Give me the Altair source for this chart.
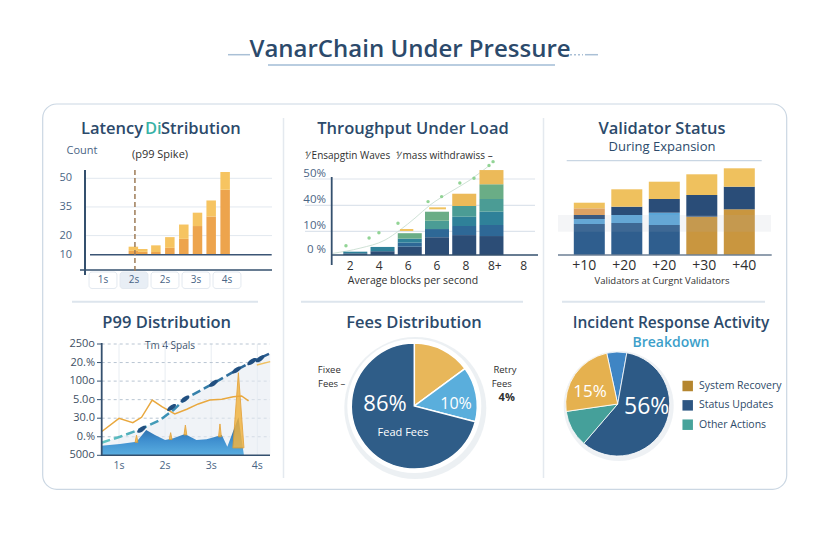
import math
import altair as alt
import pandas as pd

OFF = 8
FONT = "Open Sans"
NAVY = "#2c4a6b"
LABEL = "#4a6585"
DARK = "#2f2f2f"
AXIS = "#34506e"

# ---------------- data ----------------
# Panel 1: Latency Distribution
lat_x_labels = ["1s", "2s", "2s", "3s", "4s"]
lat_y_ticks = [10, 20, 35, 50]
lat_bar_pos = [1.89, 2.22, 2.68, 3.17, 3.66, 4.14, 4.62, 5.11]
lat_lower = [12.0, 11.5, 11.4, 13.6, 18.3, 25.0, 30.0, 44.0]
lat_upper = [14.2, 13.0, 14.9, 19.2, 25.8, 32.0, 38.4, 53.3]
lat_base = 10
lat_p99 = 2.03

# Panel 2: Throughput Under Load
tp_x_labels = ["2", "4", "6", "6", "8", "8+", "8"]
tp_y_ticks = [0, 10, 40, 50]
tp_y_labels = ["0 %", "10%", "40%", "50%"]
tp_segments = ["navy", "blue", "teal", "sea", "green", "gold"]
tp_navy = [0.7, 1.6, 3.5, 7.5, 8.4, 8.0]
tp_blue = [0.0, 0.0, 1.7, 5.1, 7.7, 9.3]
tp_teal = [0.7, 1.8, 1.7, 0.0, 10.7, 15.3]
tp_sea = [0.0, 0.0, 0.0, 9.6, 12.4, 9.8]
tp_green = [0.0, 0.0, 2.3, 10.4, 0.0, 5.6]
tp_gold = [0.0, 0.0, 0.0, 0.0, 5.2, 5.4]
tp_dot_x = [0.85, 1.65, 1.99, 2.65, 3.69, 4.16, 4.79, 5.28, 5.80, 5.94]
tp_dot_y = [3.9, 7.2, 9.4, 19.2, 41.4, 43.3, 48.5, 50.3, 55.1, 56.6]
tp_curve_x = [0.4, 1.34, 2.2, 2.72, 3.24, 3.76, 4.45, 5.14, 5.83]
tp_curve_y = [0.7, 2.9, 6.3, 11.5, 25.3, 40.1, 45.0, 49.6, 55.3]
tp_dash_x1 = [2.72, 3.73]
tp_dash_x2 = [3.18, 4.31]
tp_dash_y = [11.5, 36.5]

# Panel 3: Validator Status
val_x_labels = ["+10", "+20", "+20", "+30", "+40"]
val_segments = ["mid", "light", "tan", "dark", "orange", "gold"]
val_mid = [31.0, 32.0, 30.0, 0.0, 0.0]
val_light = [5.0, 8.0, 12.3, 0.0, 0.0]
val_tan = [0.0, 0.0, 0.0, 38.3, 45.7]
val_dark = [4.0, 8.3, 13.7, 21.7, 22.6]
val_orange = [6.7, 0.0, 0.0, 0.0, 0.0]
val_gold = [5.6, 17.4, 17.3, 20.7, 18.4]
val_band = [23.3, 40.0]

# Panel 4: P99 Distribution
p99_y_labels = ["500o", "0.%", "30.0", "5.0o", "100o", "20.%", "250o"]
p99_x_labels = ["1s", "2s", "3s", "4s"]
p99_area_x = [0.62, 1.02, 1.38, 1.59, 1.78, 2.00, 2.18, 2.43, 2.68, 2.90, 3.23, 3.35, 3.59, 3.71]
p99_area_y = [0.52, 0.61, 0.73, 1.36, 1.09, 0.82, 0.92, 1.15, 0.82, 0.86, 1.09, 0.46, 2.05, 0.0]
p99_orange_x = [0.62, 1.00, 1.30, 1.49, 1.72, 1.93, 2.21, 2.47, 2.72, 2.97, 3.23, 3.48, 3.66, 3.81]
p99_orange_y = [1.27, 1.99, 1.76, 2.05, 2.98, 2.62, 2.23, 2.48, 2.77, 2.98, 3.02, 3.16, 3.20, 2.94]
p99_tail_x = [3.99, 4.28]
p99_tail_y = [4.87, 5.05]
p99_teal_x = [0.62, 1.02, 1.46, 1.89, 2.18, 2.43, 3.05, 3.55, 3.88, 4.28]
p99_teal_y = [0.68, 1.00, 1.40, 1.90, 2.44, 3.03, 3.88, 4.60, 5.05, 5.50]
p99_blob_x = [1.49, 2.14, 2.43, 3.05, 3.55, 3.88, 4.06]
p99_blob_y = [1.40, 2.58, 3.03, 3.88, 4.60, 5.05, 5.20]
spk_x = [1.38, 2.12, 2.44, 3.19, 3.59]
spk_peak = [1.09, 1.22, 1.63, 1.69, 4.45]
spk_base = [0.70, 0.85, 1.10, 1.00, 0.40]
spk_half = [0.03, 0.03, 0.03, 0.03, 0.12]

# Panel 5: Fees Distribution
fee_cats = ["gold", "retry", "fead"]
fee_vals = [14.9, 14.1, 71.0]

# Panel 6: Incident Response Activity
inc_cats = ["light", "status", "other", "system"]
inc_vals = [6.2, 58.5, 11.4, 23.9]
inc_start_deg = 347.8
inc_legend = ["System Recovery", "Status Updates", "Other Actions"]

# ---------------- helpers ----------------
def px(v):
    return v - OFF


def lin(domain, rng):
    return alt.Scale(domain=domain, range=[px(r) for r in rng], nice=False, zero=False)


ONE = pd.DataFrame({"k": [0]})


def txt(s, x, y, size=11, color=DARK, weight="normal", align="center"):
    return alt.Chart(ONE).mark_text(
        text=s, font=FONT, fontSize=size, color=color, fontWeight=weight,
        align=align, baseline="middle"
    ).encode(x=alt.value(px(x)), y=alt.value(px(y)))


def hrule(x1, x2, y, color, w=1.0, dash=None, opacity=1.0):
    props = dict(color=color, strokeWidth=w, opacity=opacity)
    if dash:
        props["strokeDash"] = dash
    return alt.Chart(ONE).mark_rule(**props).encode(
        x=alt.value(px(x1)), x2=alt.value(px(x2)), y=alt.value(px(y)))


def vrule(x, y1, y2, color, w=1.0, dash=None, opacity=1.0):
    props = dict(color=color, strokeWidth=w, opacity=opacity)
    if dash:
        props["strokeDash"] = dash
    return alt.Chart(ONE).mark_rule(**props).encode(
        x=alt.value(px(x)), y=alt.value(px(y1)), y2=alt.value(px(y2)))


def stack_rows(positions, segs, series):
    rows = []
    for i, p in enumerate(positions):
        acc = 0.0
        for name, vals in zip(segs, series):
            h = vals[i]
            if h > 0:
                rows.append({"x": p, "seg": name, "lo": acc, "hi": acc + h})
                acc += h
    return pd.DataFrame(rows)


layers = []

# ---------------- card & title ----------------
layers.append(alt.Chart(ONE).mark_rect(
    fill="#ffffff", stroke="#cbd7e3", strokeWidth=1.2, cornerRadius=14
).encode(x=alt.value(px(42.7)), x2=alt.value(px(786.7)),
         y=alt.value(px(104)), y2=alt.value(px(489.3))))

layers.append(txt("VanarChain Under Pressure", 410, 50, size=24, color=NAVY, weight=600))
layers.append(hrule(268, 555, 65, "#b9cde0", 2))
layers.append(hrule(228, 250, 54.7, "#aac0d6", 1.5))
layers.append(hrule(570, 583, 54.7, "#aac0d6", 1.5, dash=[2, 2]))
layers.append(hrule(585, 598, 54.7, "#aac0d6", 1.5))

# separators
layers.append(vrule(283.5, 118, 478, "#e4e9ef", 1.5))
layers.append(vrule(543.5, 118, 478, "#e4e9ef", 1.5))
layers.append(hrule(72, 258, 301.7, "#dde5ed", 2))
layers.append(hrule(301, 523, 301.7, "#dde5ed", 2))
layers.append(hrule(562, 765, 301.7, "#dde5ed", 2))

# ---------------- Panel 1 ----------------
lat_xs = lin([1, 5], [103, 227])
lat_ys = lin([10, 50], [254.7, 178.3])

layers.append(txt("Latency", 81, 129, size=16.5, color=NAVY, weight=600, align="left"))
layers.append(txt("Di", 145, 129, size=16.5, color="#38b2a6", weight=600, align="left"))
layers.append(txt("Stribution", 161, 129, size=16.5, color=NAVY, weight=600, align="left"))
layers.append(txt("Count", 82, 151, size=11, color=LABEL))
layers.append(txt("(p99 Spike)", 160, 155, size=11, color=DARK))

df_lat_grid = pd.DataFrame({"v": [20, 35, 50]})
layers.append(alt.Chart(df_lat_grid).mark_rule(color="#e2e8ef", strokeWidth=1).encode(
    y=alt.Y("v:Q", scale=lat_ys, axis=None), x=alt.value(px(85)), x2=alt.value(px(272))))
df_lat_yl = pd.DataFrame({"v": lat_y_ticks, "t": [str(v) for v in lat_y_ticks]})
layers.append(alt.Chart(df_lat_yl).mark_text(
    font=FONT, fontSize=11, color=LABEL, align="right", baseline="middle").encode(
    y=alt.Y("v:Q", scale=lat_ys, axis=None), x=alt.value(px(72)), text="t:N"))

df_lat = pd.DataFrame({"x": lat_bar_pos, "lo": lat_lower, "hi": lat_upper})
df_lat["base"] = lat_base
layers.append(alt.Chart(df_lat).mark_bar(size=9.5, color="#eda44d").encode(
    x=alt.X("x:Q", scale=lat_xs, axis=None),
    y=alt.Y("base:Q", scale=lat_ys, axis=None), y2="lo:Q"))
layers.append(alt.Chart(df_lat).mark_bar(size=9.5, color="#f6c461").encode(
    x=alt.X("x:Q", scale=lat_xs, axis=None),
    y=alt.Y("lo:Q", scale=lat_ys, axis=None), y2="hi:Q"))

# baseline at 10
layers.append(alt.Chart(pd.DataFrame({"v": [lat_base]})).mark_rule(color="#3b5575", strokeWidth=1.5).encode(
    y=alt.Y("v:Q", scale=lat_ys, axis=None), x=alt.value(px(90)), x2=alt.value(px(271.7))))
# axes lines
layers.append(vrule(85, 170, 275, AXIS, 2))
layers.append(hrule(80, 272, 270, AXIS, 1.5))
# p99 dashed line
layers.append(alt.Chart(pd.DataFrame({"x": [lat_p99]})).mark_rule(
    color="#9d7b57", strokeWidth=1.5, strokeDash=[5, 3]).encode(
    x=alt.X("x:Q", scale=lat_xs, axis=None), y=alt.value(px(170)), y2=alt.value(px(272))))

df_lat_xl = pd.DataFrame({"x": list(range(1, 6)), "t": lat_x_labels, "hl": [0, 1, 0, 0, 0]})
df_lat_xl["x0"] = df_lat_xl["x"] - 0.45
df_lat_xl["x1"] = df_lat_xl["x"] + 0.45
layers.append(alt.Chart(df_lat_xl).mark_rect(cornerRadius=3, stroke="#e3e9f0", strokeWidth=1).encode(
    x=alt.X("x0:Q", scale=lat_xs, axis=None), x2="x1:Q",
    y=alt.value(px(272)), y2=alt.value(px(288.5)),
    fill=alt.condition("datum.hl == 1", alt.value("#e8eef5"), alt.value("#ffffff"))))
layers.append(alt.Chart(df_lat_xl).mark_text(
    font=FONT, fontSize=10, color=LABEL, baseline="middle").encode(
    x=alt.X("x:Q", scale=lat_xs, axis=None), y=alt.value(px(280)), text="t:N"))

# ---------------- Panel 2 ----------------
tp_xs = lin([1, 7], [350.3, 523.7])
tp_ys = alt.Scale(domain=[0, 10, 40, 50, 60],
                  range=[px(v) for v in [255, 231.3, 205.3, 179, 152.7]],
                  nice=False, zero=False)

layers.append(txt("Throughput Under Load", 413, 129, size=16.5, color=NAVY, weight=600))
layers.append(txt("\u215f Ensapgtin Waves", 305, 156, size=10, color=DARK, align="left"))
layers.append(txt("\u215f mass withdrawiss \u2013", 396, 156, size=10, color=DARK, align="left"))

df_tp_grid = pd.DataFrame({"v": [10, 40, 50]})
layers.append(alt.Chart(df_tp_grid).mark_rule(color="#dde4ec", strokeWidth=1.2).encode(
    y=alt.Y("v:Q", scale=tp_ys, axis=None), x=alt.value(px(305)), x2=alt.value(px(535))))
df_tp_yl = pd.DataFrame({"v": tp_y_ticks, "t": tp_y_labels})
layers.append(alt.Chart(df_tp_yl).mark_text(
    font=FONT, fontSize=11.5, color=LABEL, align="right", baseline="bottom").encode(
    y=alt.Y("v:Q", scale=tp_ys, axis=None), x=alt.value(px(326)), text="t:N"))

layers.append(alt.Chart(pd.DataFrame({"x": tp_curve_x, "y": tp_curve_y})).mark_line(
    color="#cfe2d6", strokeWidth=1, interpolate="monotone").encode(
    x=alt.X("x:Q", scale=tp_xs, axis=None), y=alt.Y("y:Q", scale=tp_ys, axis=None)))

df_tp = stack_rows(list(range(1, 7)), tp_segments,
                   [tp_navy, tp_blue, tp_teal, tp_sea, tp_green, tp_gold])
layers.append(alt.Chart(df_tp).mark_bar(size=24).encode(
    x=alt.X("x:Q", scale=tp_xs, axis=None),
    y=alt.Y("lo:Q", scale=tp_ys, axis=None), y2="hi:Q",
    color=alt.Color("seg:N", legend=None, scale=alt.Scale(
        domain=tp_segments,
        range=["#2c4d76", "#2e6896", "#2f8199", "#4b9c95", "#6aad86", "#ecba59"]))))

layers.append(alt.Chart(pd.DataFrame({"x": tp_dot_x, "y": tp_dot_y})).mark_circle(
    size=12, color="#86cf8a", opacity=0.9).encode(
    x=alt.X("x:Q", scale=tp_xs, axis=None), y=alt.Y("y:Q", scale=tp_ys, axis=None)))
layers.append(alt.Chart(pd.DataFrame({"x": tp_dash_x1, "x2": tp_dash_x2, "y": tp_dash_y})).mark_rule(
    color="#f0c25e", strokeWidth=2).encode(
    x=alt.X("x:Q", scale=tp_xs, axis=None), x2="x2:Q", y=alt.Y("y:Q", scale=tp_ys, axis=None)))

layers.append(vrule(331.7, 177, 265, AXIS, 1.8))
layers.append(hrule(331, 538, 255, AXIS, 1.5))
df_tp_xl = pd.DataFrame({"x": list(range(1, 8)), "t": tp_x_labels})
layers.append(alt.Chart(df_tp_xl).mark_text(
    font=FONT, fontSize=12, color=DARK, baseline="middle").encode(
    x=alt.X("x:Q", scale=tp_xs, axis=None), y=alt.value(px(266)), text="t:N"))
layers.append(txt("Average blocks per second", 413, 281, size=10.5, color=DARK))

# ---------------- Panel 3 ----------------
val_xs = lin([1, 5], [584.3, 744.3])
val_ys = lin([0, 100], [255, 155])

layers.append(txt("Validator Status", 662, 129, size=16.5, color=NAVY, weight=600))
layers.append(txt("During Expansion", 662, 147.3, size=13, color=NAVY))
layers.append(hrule(566.7, 761.7, 160.7, "#c9d6e3", 1.2))

df_val = stack_rows(list(range(1, 6)), val_segments,
                    [val_mid, val_light, val_tan, val_dark, val_orange, val_gold])
layers.append(alt.Chart(df_val).mark_bar(size=31).encode(
    x=alt.X("x:Q", scale=val_xs, axis=None),
    y=alt.Y("lo:Q", scale=val_ys, axis=None), y2="hi:Q",
    color=alt.Color("seg:N", legend=None, scale=alt.Scale(
        domain=val_segments,
        range=["#2f5e8e", "#5ba6d8", "#c9963f", "#2a4d78", "#dea263", "#efc15e"]))))
layers.append(alt.Chart(pd.DataFrame({"lo": [val_band[0]], "hi": [val_band[1]]})).mark_rect(
    color="#aab4bf", opacity=0.13).encode(
    x=alt.value(px(558)), x2=alt.value(px(771)),
    y=alt.Y("lo:Q", scale=val_ys, axis=None), y2="hi:Q"))
layers.append(hrule(558, 771.7, 255, "#6c7f95", 1.5))
df_val_xl = pd.DataFrame({"x": list(range(1, 6)), "t": val_x_labels})
layers.append(alt.Chart(df_val_xl).mark_text(
    font=FONT, fontSize=14, color=DARK, baseline="middle").encode(
    x=alt.X("x:Q", scale=val_xs, axis=None), y=alt.value(px(265.7)), text="t:N"))
layers.append(txt("Validators at Curgnt Validators", 662, 280.7, size=9.5, color=DARK))

# ---------------- Panel 4 ----------------
p99_xs = lin([1, 4], [119, 257.3])
p99_ys = lin([0, 6], [455.3, 344])

layers.append(txt("P99 Distribution", 166.7, 322.7, size=16.5, color=NAVY, weight=600))
layers.append(txt("Tm 4 Spals", 170, 346, size=10, color="#3a4f6a"))

layers.append(alt.Chart(pd.DataFrame({"x": [1, 2, 3, 4]})).mark_rule(
    color="#e8edf2", strokeWidth=1).encode(
    x=alt.X("x:Q", scale=p99_xs, axis=None), y=alt.value(px(344)), y2=alt.value(px(455))))
layers.append(alt.Chart(pd.DataFrame({"v": [1, 2, 3, 4, 5, 6]})).mark_rule(
    color="#b9c5d2", strokeWidth=1, strokeDash=[3, 3]).encode(
    y=alt.Y("v:Q", scale=p99_ys, axis=None), x=alt.value(px(101.7)), x2=alt.value(px(270))))

df_teal = pd.DataFrame({"x": p99_teal_x, "y": p99_teal_y})
df_teal["z"] = 0
layers.append(alt.Chart(df_teal).mark_area(color="#e6ebf1", opacity=0.6).encode(
    x=alt.X("x:Q", scale=p99_xs, axis=None),
    y=alt.Y("y:Q", scale=p99_ys, axis=None), y2="z:Q"))

df_area = pd.DataFrame({"x": p99_area_x, "y": p99_area_y})
df_area["z"] = 0
layers.append(alt.Chart(df_area).mark_area(
    color=alt.LinearGradient(gradient="linear", x1=0, x2=0, y1=0, y2=1, stops=[
        alt.GradientStop(color="#1f4f86", offset=0),
        alt.GradientStop(color="#3f8fcf", offset=0.6),
        alt.GradientStop(color="#5aaee0", offset=1)])).encode(
    x=alt.X("x:Q", scale=p99_xs, axis=None),
    y=alt.Y("y:Q", scale=p99_ys, axis=None), y2="z:Q"))

spk_rows = []
for i in range(len(spk_x)):
    for dx, yy in [(-spk_half[i], spk_base[i]), (0.0, spk_peak[i]), (spk_half[i], spk_base[i])]:
        spk_rows.append({"id": i, "x": spk_x[i] + dx, "y": yy, "b": spk_base[i]})
layers.append(alt.Chart(pd.DataFrame(spk_rows)).mark_area(
    color="#f0b443", opacity=0.85, stroke="#e59e2c", strokeWidth=1).encode(
    x=alt.X("x:Q", scale=p99_xs, axis=None),
    y=alt.Y("y:Q", scale=p99_ys, axis=None), y2="b:Q", detail="id:N"))

layers.append(alt.Chart(pd.DataFrame({"x": p99_orange_x, "y": p99_orange_y})).mark_line(
    color="#e9a83e", strokeWidth=1.5).encode(
    x=alt.X("x:Q", scale=p99_xs, axis=None), y=alt.Y("y:Q", scale=p99_ys, axis=None)))
layers.append(alt.Chart(pd.DataFrame({"x": p99_tail_x, "y": p99_tail_y})).mark_line(
    color="#f0c060", strokeWidth=1.5).encode(
    x=alt.X("x:Q", scale=p99_xs, axis=None), y=alt.Y("y:Q", scale=p99_ys, axis=None)))

layers.append(alt.Chart(df_teal).mark_line(
    stroke=alt.LinearGradient(gradient="linear", x1=0, x2=1, y1=0, y2=0, stops=[
        alt.GradientStop(color="#63c7c2", offset=0),
        alt.GradientStop(color="#3a8fb5", offset=0.4),
        alt.GradientStop(color="#2a5b8f", offset=1)]),
    strokeWidth=2.5, strokeDash=[9, 4]).encode(
    x=alt.X("x:Q", scale=p99_xs, axis=None), y=alt.Y("y:Q", scale=p99_ys, axis=None)))
layers.append(alt.Chart(pd.DataFrame({"x": p99_blob_x, "y": p99_blob_y})).mark_point(
    shape="M -1 0 A 1 0.42 0 1 1 1 0 A 1 0.42 0 1 1 -1 0 Z",
    filled=True, size=110, angle=325, color="#214f80", opacity=1).encode(
    x=alt.X("x:Q", scale=p99_xs, axis=None), y=alt.Y("y:Q", scale=p99_ys, axis=None)))

layers.append(vrule(101.7, 343, 456, AXIS, 1.8))
layers.append(hrule(101.7, 270, 455.3, AXIS, 1.5))
df_p99_yl = pd.DataFrame({"v": list(range(7)), "t": p99_y_labels})
layers.append(alt.Chart(df_p99_yl).mark_rule(color=AXIS, strokeWidth=1).encode(
    y=alt.Y("v:Q", scale=p99_ys, axis=None), x=alt.value(px(97)), x2=alt.value(px(101.7))))
layers.append(alt.Chart(df_p99_yl).mark_text(
    font=FONT, fontSize=11, color="#3e4f63", align="right", baseline="middle").encode(
    y=alt.Y("v:Q", scale=p99_ys, axis=None), x=alt.value(px(95)), text="t:N"))
df_p99_xl = pd.DataFrame({"x": [1, 2, 3, 4], "t": p99_x_labels})
layers.append(alt.Chart(df_p99_xl).mark_text(
    font=FONT, fontSize=10.5, color=LABEL, baseline="middle").encode(
    x=alt.X("x:Q", scale=p99_xs, axis=None), y=alt.value(px(465.7)), text="t:N"))

# ---------------- Panel 5 ----------------
FCX, FCY = 414.3, 406
layers.append(txt("Fees Distribution", 414, 322.7, size=16.5, color=NAVY, weight=600))
layers.append(alt.Chart(ONE).mark_arc(outerRadius=71, theta=0, theta2=6.2832,
                                      color="#c9d3dd", opacity=0.35).encode(
    x=alt.value(px(FCX + 1)), y=alt.value(px(FCY + 2))))
layers.append(alt.Chart(ONE).mark_arc(outerRadius=67, theta=0, theta2=6.2832,
                                      color="#ffffff").encode(
    x=alt.value(px(FCX)), y=alt.value(px(FCY))))
df_fee = pd.DataFrame({"k": fee_cats, "v": fee_vals, "o": list(range(len(fee_cats)))})
layers.append(alt.Chart(df_fee).mark_arc(outerRadius=63, stroke="#ffffff", strokeWidth=1.5).encode(
    theta=alt.Theta("v:Q", stack=True),
    order=alt.Order("o:Q"),
    color=alt.Color("k:N", legend=None, scale=alt.Scale(
        domain=fee_cats, range=["#e8b75a", "#5aaedc", "#2f5d88"])),
    x=alt.value(px(FCX)), y=alt.value(px(FCY))))
layers.append(txt("86%", 385, 404, size=22, color="#ffffff", weight=500))
layers.append(txt("Fead Fees", 403, 433.3, size=11, color="#ffffff"))
layers.append(txt("10%", 456, 404, size=16, color="#ffffff"))
layers.append(txt("Fixee", 329.3, 369.5, size=9.5, color=DARK))
layers.append(txt("Fees \u2013", 331.7, 383.5, size=9.5, color=DARK))
layers.append(txt("Retry", 505, 369.5, size=9.5, color=DARK))
layers.append(txt("Fees", 501.7, 383.5, size=9.5, color=DARK))
layers.append(txt("4%", 506.7, 398.3, size=11, color=DARK, weight="bold"))

# ---------------- Panel 6 ----------------
ICX, ICY = 617.7, 404
layers.append(txt("Incident Response Activity", 671, 322.7, size=15.5, color=NAVY, weight=600))
layers.append(txt("Breakdown", 671, 343.3, size=14, color="#3d9fca", weight=600))
layers.append(alt.Chart(ONE).mark_arc(outerRadius=55, theta=0, theta2=6.2832,
                                      color="#cdd6df", opacity=0.35).encode(
    x=alt.value(px(ICX + 1)), y=alt.value(px(ICY + 2))))
start = math.radians(inc_start_deg)
df_inc = pd.DataFrame({"k": inc_cats, "v": inc_vals, "o": list(range(len(inc_cats)))})
layers.append(alt.Chart(df_inc).mark_arc(outerRadius=52, stroke="#ffffff", strokeWidth=0.8).encode(
    theta=alt.Theta("v:Q", stack=True, scale=alt.Scale(range=[start, start + 2 * math.pi])),
    order=alt.Order("o:Q"),
    color=alt.Color("k:N", legend=None, scale=alt.Scale(
        domain=inc_cats, range=["#3f85c4", "#2d5a86", "#45a09a", "#e5b14f"])),
    x=alt.value(px(ICX)), y=alt.value(px(ICY))))
layers.append(txt("15%", 590, 391.7, size=17, color="#ffffff"))
layers.append(txt("56%", 646.7, 407.3, size=23, color="#ffffff", weight=500))

df_leg = pd.DataFrame({"i": [0, 1, 2], "t": inc_legend})
leg_ys = lin([0, 2], [386, 424.7])
layers.append(alt.Chart(df_leg).mark_square(size=110, opacity=1).encode(
    x=alt.value(px(687.7)), y=alt.Y("i:Q", scale=leg_ys, axis=None),
    color=alt.Color("t:N", legend=None, scale=alt.Scale(
        domain=inc_legend, range=["#b5862f", "#2d5683", "#47a39b"]))))
layers.append(alt.Chart(df_leg).mark_text(
    font=FONT, fontSize=10.5, color="#2d4a68", align="left", baseline="middle").encode(
    x=alt.value(px(699)), y=alt.Y("i:Q", scale=leg_ys, axis=None), text="t:N"))

chart = alt.layer(*layers).resolve_scale(
    x="independent", y="independent", color="independent", theta="independent"
).properties(
    width=812, height=536, autosize=alt.AutoSizeParams(type="none"), padding=0,
    background="#ffffff"
).configure_view(stroke=None)

chart.save("out.html", embed_options={"renderer": "svg", "actions": False})
